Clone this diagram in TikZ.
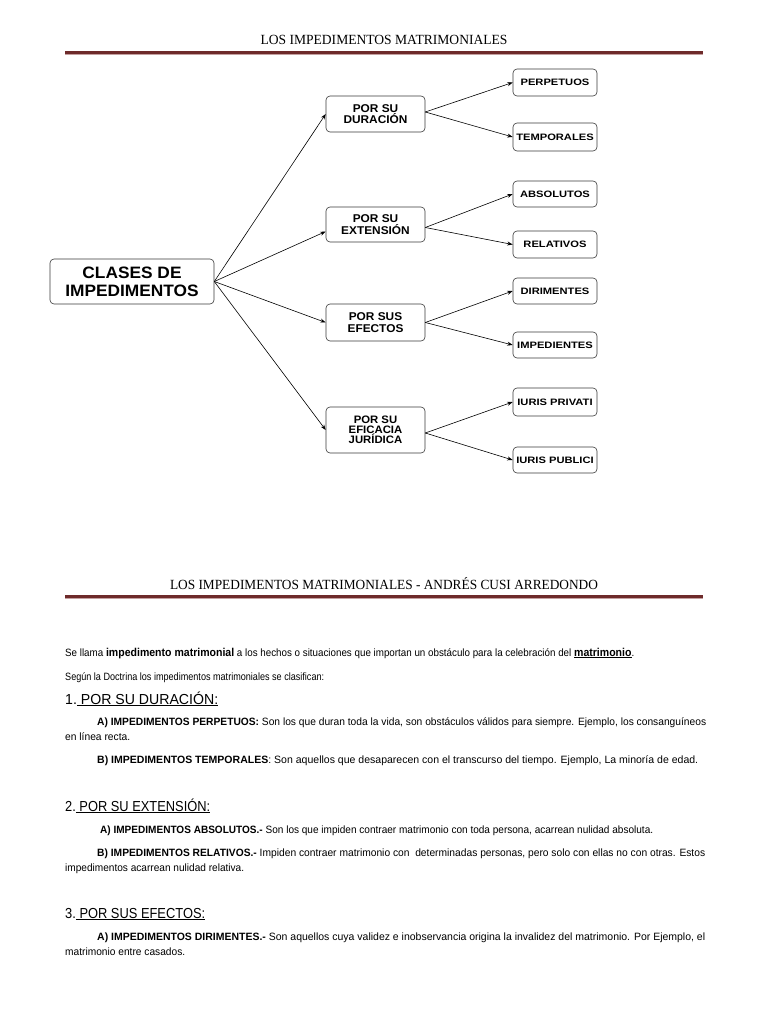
\documentclass[tikz,border=0pt]{standalone}
\usepackage{fontspec}
\usepackage{graphicx}
\usetikzlibrary{arrows.meta}
\setmainfont{Liberation Sans}
\newfontfamily\hdfont{Liberation Serif}
\newfontfamily\widefont[FakeStretch=1.2]{Liberation Sans}
\newfontfamily\midfont[FakeStretch=1.05]{Liberation Sans}
\newcommand{\fitw}[2]{\resizebox{#1pt}{\height}{#2}}
\definecolor{maroon}{HTML}{6E2B2B}
\definecolor{maroonlt}{HTML}{C4A0A0}
\definecolor{boxline}{HTML}{3A3A3A}
\tikzset{
  rbox/.style={draw=boxline, line width=0.6pt, rounded corners=4pt, align=center, inner sep=1pt},
  bigbox/.style={rbox, minimum width=164pt, minimum height=45pt, font=\midfont\bfseries\fontsize{16.5}{18}\selectfont},
  midbox/.style={rbox, minimum width=99pt, font=\midfont\bfseries\fontsize{11.3}{11.5}\selectfont},
  leafbox/.style={rbox, minimum width=84pt, font=\widefont\bfseries\fontsize{9.3}{10}\selectfont},
  link/.style={line width=0.6pt, -{Stealth[length=5.5pt,width=4pt]}},
  body/.style={anchor=base west, inner sep=0pt, font=\fontsize{10.6}{12}\selectfont},
  head/.style={anchor=base, inner sep=0pt, font=\hdfont\fontsize{14}{16}\selectfont},
  sect/.style={anchor=base west, inner sep=0pt, font=\fontsize{14.5}{16}\selectfont}
}
\begin{document}
\begin{tikzpicture}[x=1pt,y=-1pt]
\useasboundingbox[fill=white] (0,0) rectangle (768,1024);

% header 1
\node[head] (h1) at (384,45) {\fitw{247}{LOS IMPEDIMENTOS MATRIMONIALES}};
\coordinate (l1a) at (65,52.5);
\coordinate (l1b) at (703,52.5);
\draw[maroon, line width=2.6pt] (l1a) -- (l1b);
\draw[maroonlt, line width=0.7pt] ([yshift=-2.2pt]l1a) -- ([yshift=-2.2pt]l1b);

% diagram
\node[bigbox] (c) at (132,281.5) {CLASES DE\\IMPEDIMENTOS};

\node[midbox, minimum height=36pt] (dur) at (375.5,114) {POR SU\\DURACIÓN};
\node[midbox, minimum height=35pt] (ext) at (375.5,224.5) {POR SU\\EXTENSIÓN};
\node[midbox, minimum height=37pt] (efe) at (375.5,322.5) {POR SUS\\EFECTOS};
\node[midbox, minimum height=46pt, font=\midfont\bfseries\fontsize{10.8}{10.2}\selectfont] (efi) at (375.5,430) {POR SU\\EFICACIA\\JURÍDICA};

\node[leafbox, minimum height=27pt] (per) at (555,82.5) {PERPETUOS};
\node[leafbox, minimum height=28pt] (tem) at (555,137) {TEMPORALES};
\node[leafbox, minimum height=26pt] (abs) at (555,194) {ABSOLUTOS};
\node[leafbox, minimum height=27pt] (rel) at (555,244.5) {RELATIVOS};
\node[leafbox, minimum height=26pt] (dir) at (555,291) {DIRIMENTES};
\node[leafbox, minimum height=26pt] (imp) at (555,345) {IMPEDIENTES};
\node[leafbox, minimum height=28pt] (pri) at (555,402) {IURIS PRIVATI};
\node[leafbox, minimum height=26pt] (pub) at (555,460) {IURIS PUBLICI};

\draw[link] (c.east) -- (dur.west);
\draw[link] (c.east) -- ([yshift=-7pt]ext.west);
\draw[link] (c.east) -- (efe.west);
\draw[link] (c.east) -- (efi.west);

\draw[link] ([yshift=2pt]dur.east) -- (per.west);
\draw[link] ([yshift=2pt]dur.east) -- (tem.west);
\draw[link] ([yshift=-3pt]ext.east) -- (abs.west);
\draw[link] ([yshift=-3pt]ext.east) -- (rel.west);
\draw[link] (efe.east) -- (dir.west);
\draw[link] (efe.east) -- (imp.west);
\draw[link] ([yshift=-3pt]efi.east) -- (pri.west);
\draw[link] ([yshift=-3pt]efi.east) -- (pub.west);

% header 2
\node[head] (h2) at (384,589) {\fitw{428}{LOS IMPEDIMENTOS MATRIMONIALES - ANDRÉS CUSI ARREDONDO}};
\coordinate (l2a) at (65,596.5);
\coordinate (l2b) at (703,596.5);
\draw[maroon, line width=2.6pt] (l2a) -- (l2b);
\draw[maroonlt, line width=0.7pt] ([yshift=-2.2pt]l2a) -- ([yshift=-2.2pt]l2b);

% body text
\node[body] (t1) at (65,656) {\fitw{569}{Se llama {\bfseries\fontsize{11.4}{12}\selectfont impedimento matrimonial} a los hechos o situaciones que importan un obstáculo para la celebración del {\bfseries\fontsize{11.4}{12}\selectfont\underline{matrimonio}}.}};
\node[body] (t2) at (65,680) {\fitw{259}{Según la Doctrina los impedimentos matrimoniales se clasifican:}};
\node[sect] (s1) at (65,704) {\fitw{153}{1.\underline{ POR SU DURACIÓN:}}};
\node[body] (t3) at (97,725.5) {\fitw{609}{{\bfseries A) IMPEDIMENTOS PERPETUOS:} Son los que duran toda la vida, son obstáculos válidos para siempre. Ejemplo, los consanguíneos}};
\node[body] (t4) at (65,740.5) {\fitw{65}{en línea recta.}};
\node[body] (t5) at (97,763.5) {\fitw{601}{{\bfseries B) IMPEDIMENTOS TEMPORALES}: Son aquellos que desaparecen con el transcurso del tiempo. Ejemplo, La minoría de edad.}};
\node[sect] (s2) at (65,811) {\fitw{145}{2.\underline{ POR SU EXTENSIÓN:}}};
\node[body] (t6) at (100,833.5) {\fitw{553}{{\bfseries A) IMPEDIMENTOS ABSOLUTOS.-} Son los que impiden contraer matrimonio con toda persona, acarrean nulidad absoluta.}};
\node[body] (t7) at (97,856.5) {\fitw{608}{{\bfseries B) IMPEDIMENTOS RELATIVOS.-} Impiden contraer matrimonio con \ determinadas personas, pero solo con ellas no con otras. Estos}};
\node[body] (t8) at (65,871.5) {\fitw{179}{impedimentos acarrean nulidad relativa.}};
\node[sect] (s3) at (65,918) {\fitw{140}{3.\underline{ POR SUS EFECTOS:}}};
\node[body] (t9) at (97,940.5) {\fitw{608}{{\bfseries A) IMPEDIMENTOS DIRIMENTES.-} Son aquellos cuya validez e inobservancia origina la invalidez del matrimonio. Por Ejemplo, el}};
\node[body] (t10) at (65,955.5) {\fitw{120}{matrimonio entre casados.}};
\end{tikzpicture}
\end{document}
